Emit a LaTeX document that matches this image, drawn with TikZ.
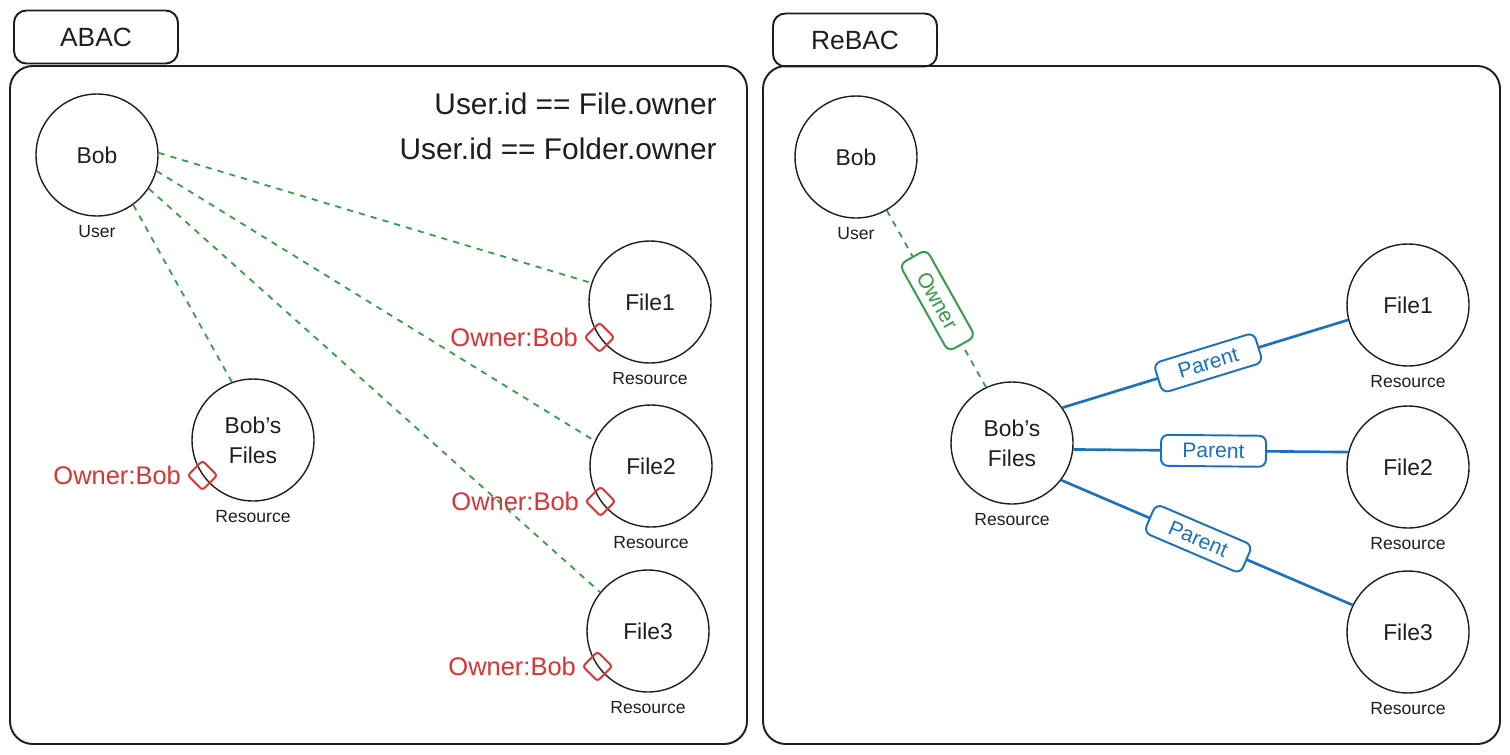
\documentclass[tikz,border=0pt]{standalone}
\usepackage{fontspec}
\setmainfont{Liberation Sans}
\usetikzlibrary{positioning,shapes.geometric}
\definecolor{inkblack}{HTML}{1E1E1E}
\definecolor{ownergreen}{HTML}{2F9E44}
\definecolor{tagred}{HTML}{E03131}
\definecolor{parentblue}{HTML}{1971C2}

\begin{document}
\begin{tikzpicture}[x=0.02cm,y=-0.02cm]
        \tikzstyle{entity}=[circle,draw=inkblack,line width=0.8pt,minimum size=2.44cm,inner sep=0pt,align=center,font=\fontsize{13}{17}\selectfont,text=inkblack]
        \tikzstyle{kind}=[font=\fontsize{10}{12}\selectfont,text=inkblack,inner sep=1pt]
        \tikzstyle{tab}=[draw=inkblack,line width=1.1pt,rounded corners=7pt,minimum width=3.28cm,minimum height=1.06cm,font=\fontsize{15}{18}\selectfont,text=inkblack]
        \tikzstyle{panel}=[draw=inkblack,line width=1.1pt,rounded corners=13pt]
        \tikzstyle{rule}=[font=\fontsize{17}{20}\selectfont,text=inkblack,inner sep=0pt]
        \tikzstyle{attr}=[draw=ownergreen,line width=1pt,dash pattern=on 3.5pt off 3.5pt]
        \tikzstyle{tag}=[diamond,draw=tagred,line width=1.1pt,rounded corners=1.5pt,minimum size=0.6cm,inner sep=0pt]
        \tikzstyle{tagtext}=[text=tagred,font=\fontsize{14.5}{17}\selectfont,inner sep=0pt]
        \tikzstyle{parent}=[draw=parentblue,line width=1.5pt]
        \tikzstyle{rel}=[draw,fill=white,sloped,rounded corners=4pt,line width=1.1pt,solid,minimum width=2.1cm,minimum height=0.62cm,inner sep=0pt,font=\fontsize{12}{14}\selectfont]

        \useasboundingbox (0,0) rectangle (1510,754);

        % --- ABAC ---
        \draw[panel] (10,66) rectangle (747,744);
        \node[tab] (abac) at (96,37) {ABAC};

        \node[rule,anchor=east] (rule1) at (717,104) {User.id == File.owner};
        \node[rule,anchor=east] (rule2) at (717,149) {User.id == Folder.owner};

        % User and resources
        \node[entity] (bob) at (97,155) {Bob};
        \node[kind,below=4pt of bob] (bobkind) {User};
        \node[entity] (lfiles) at (253,440) {Bob's\\Files};
        \node[kind,below=4pt of lfiles] (lfileskind) {Resource};
        \node[entity] (lf1) at (650,302) {File1};
        \node[kind,below=4pt of lf1] (lf1kind) {Resource};
        \node[entity] (lf2) at (651,466) {File2};
        \node[kind,below=4pt of lf2] (lf2kind) {Resource};
        \node[entity] (lf3) at (648,631) {File3};
        \node[kind,below=4pt of lf3] (lf3kind) {Resource};

        % Owner attributes
        \node[tag] (lfilestag) at (lfiles.215) {};
        \node[tagtext,left=3pt of lfilestag] {Owner:Bob};
        \node[tag] (lf1tag) at (lf1.215) {};
        \node[tagtext,left=3pt of lf1tag] {Owner:Bob};
        \node[tag] (lf2tag) at (lf2.215) {};
        \node[tagtext,left=3pt of lf2tag] {Owner:Bob};
        \node[tag] (lf3tag) at (lf3.215) {};
        \node[tagtext,left=3pt of lf3tag] {Owner:Bob};

        % Attribute checks
        \draw[attr] (bob.2) -- (lf1.162);
        \draw[attr] (bob.-15) -- (lf2.156);
        \draw[attr] (bob.-33) -- (lf3.141);
        \draw[attr] (bob.-54) -- (lfiles.110);

        % --- ReBAC ---
        \draw[panel] (763,66) rectangle (1500,744);
        \node[tab] (rebac) at (855,40) {ReBAC};

        \node[entity] (rbob) at (856,157) {Bob};
        \node[kind,below=4pt of rbob] (rbobkind) {User};
        \node[entity] (rfiles) at (1012,443) {Bob's\\Files};
        \node[kind,below=4pt of rfiles] (rfileskind) {Resource};
        \node[entity] (rf1) at (1408,305) {File1};
        \node[kind,below=4pt of rf1] (rf1kind) {Resource};
        \node[entity] (rf2) at (1408,467) {File2};
        \node[kind,below=4pt of rf2] (rf2kind) {Resource};
        \node[entity] (rf3) at (1408,632) {File3};
        \node[kind,below=4pt of rf3] (rf3kind) {Resource};

        % Relations
        \draw[attr] (rbob.-60) -- node[rel,draw=ownergreen,text=ownergreen,pos=0.51,minimum width=2cm] (ownerrel) {Owner} (rfiles.115);
        \draw[parent] (rfiles.35) -- node[rel,text=parentblue,pos=0.51] (parent1) {Parent} (rf1.194);
        \draw[parent] (rfiles.-6) -- node[rel,text=parentblue,pos=0.51] (parent2) {Parent} (rf2.166);
        \draw[parent] (rfiles.-37) -- node[rel,text=parentblue,pos=0.47] (parent3) {Parent} (rf3.154);
\end{tikzpicture}
\end{document}
